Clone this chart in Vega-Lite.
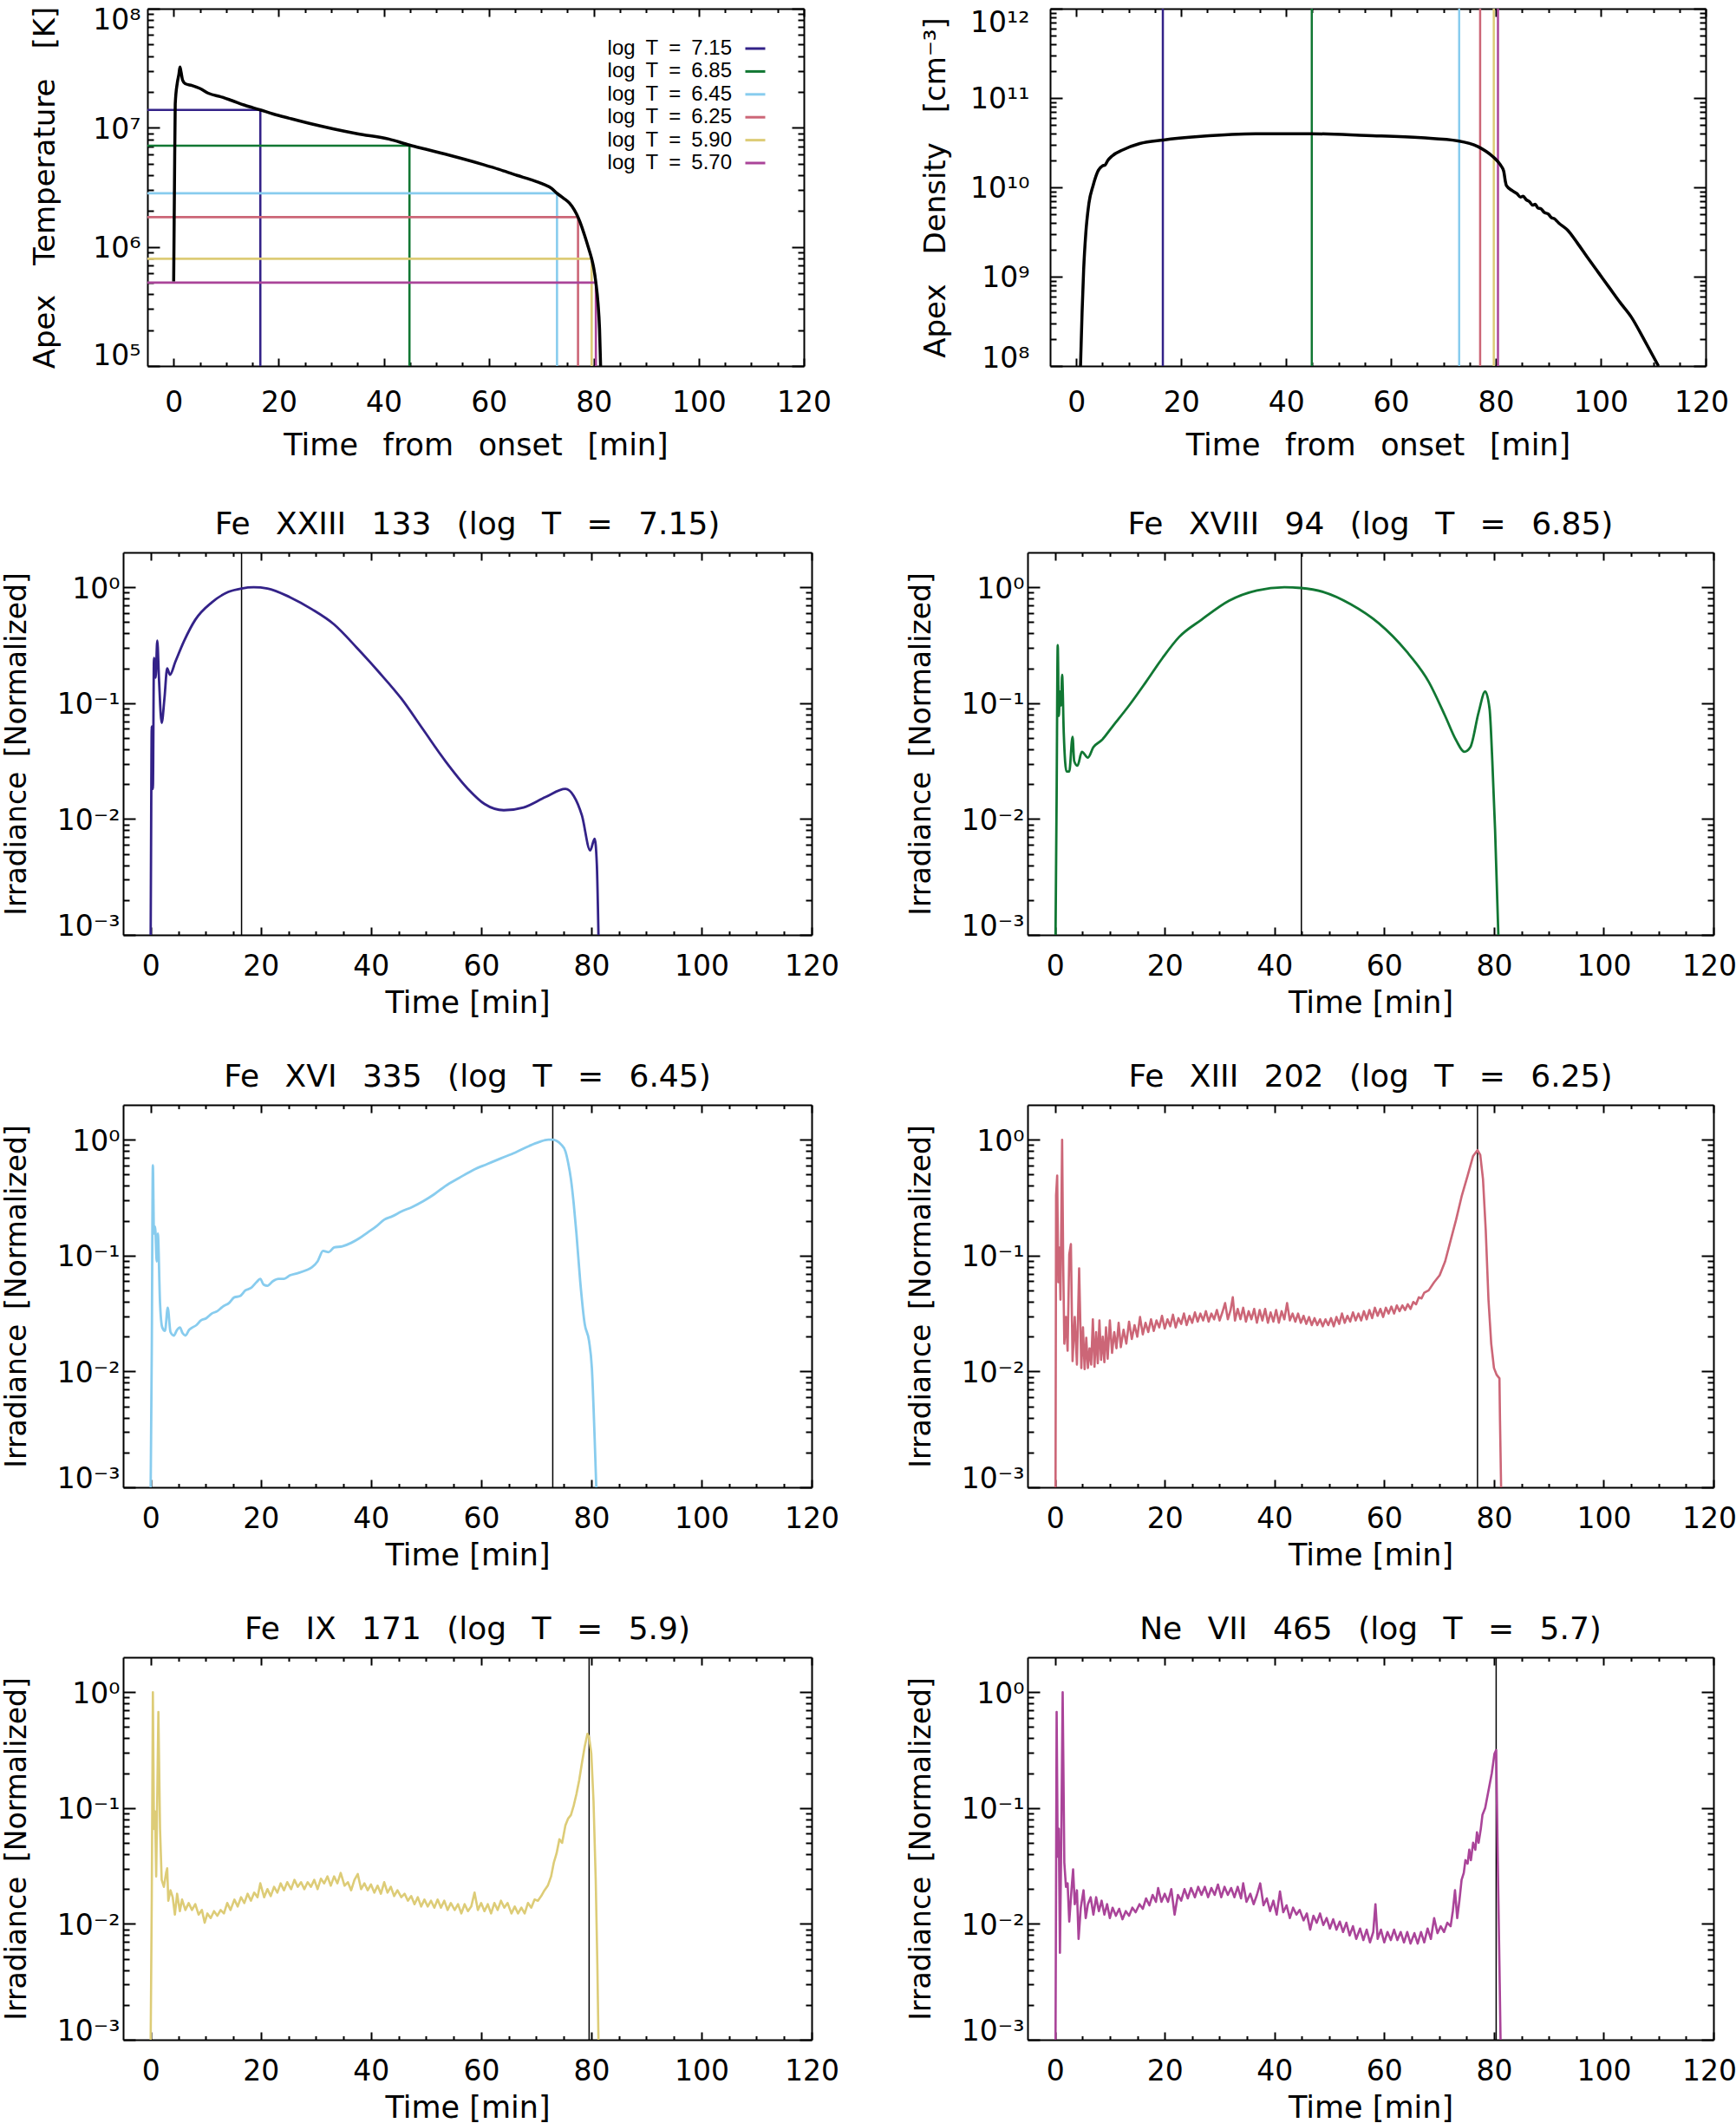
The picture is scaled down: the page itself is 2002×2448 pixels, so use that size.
{
  "$schema": "https://vega.github.io/schema/vega-lite/v6.json",
  "autosize": {"type": "none"},
  "padding": {"left": 142, "top": 10, "right": 1860, "bottom": 2438},
  "background": "white",
  "columns": 2,
  "spacing": {"row": 196, "column": 249},
  "bounds": "flush",
  "align": "each",
  "resolve": {"scale": {"color": "independent"}},
  "datasets": {
    "temp": [{"t":0,"lg":5.71},{"t":0.15,"lg":6.5},{"t":0.3,"lg":7.2},{"t":0.7,"lg":7.38},{"t":1.0,"lg":7.45},{"t":1.2,"lg":7.51},{"t":1.4,"lg":7.47},{"t":1.7,"lg":7.4},{"t":2.2,"lg":7.37},{"t":3.5,"lg":7.355},{"t":5.0,"lg":7.33},{"t":6.6,"lg":7.29},{"t":9.3,"lg":7.256},{"t":11.0,"lg":7.23},{"t":13.5,"lg":7.19},{"t":16.5,"lg":7.15},{"t":19.0,"lg":7.115},{"t":22.0,"lg":7.08},{"t":26.0,"lg":7.035},{"t":30.5,"lg":6.99},{"t":35.0,"lg":6.95},{"t":41.0,"lg":6.905},{"t":44.9,"lg":6.855},{"t":48.0,"lg":6.82},{"t":51.6,"lg":6.78},{"t":55.0,"lg":6.74},{"t":59.0,"lg":6.69},{"t":62.0,"lg":6.65},{"t":65.4,"lg":6.6},{"t":68.0,"lg":6.565},{"t":70.2,"lg":6.53},{"t":72.0,"lg":6.49},{"t":73.0,"lg":6.45},{"t":74.2,"lg":6.41},{"t":75.4,"lg":6.366},{"t":76.3,"lg":6.31},{"t":77.0,"lg":6.25},{"t":77.7,"lg":6.17},{"t":78.3,"lg":6.09},{"t":79.0,"lg":5.99},{"t":79.6,"lg":5.9},{"t":80.0,"lg":5.82},{"t":80.4,"lg":5.7},{"t":80.8,"lg":5.53},{"t":81.1,"lg":5.31},{"t":81.3,"lg":5.0}],
    "dens": [{"t":0.8,"lg":8.0},{"t":1.1,"lg":8.6},{"t":1.4,"lg":9.08},{"t":1.8,"lg":9.48},{"t":2.4,"lg":9.82},{"t":3.2,"lg":10.02},{"t":4.2,"lg":10.19},{"t":5.0,"lg":10.24},{"t":5.5,"lg":10.25},{"t":6.0,"lg":10.3},{"t":6.8,"lg":10.35},{"t":8.9,"lg":10.42},{"t":12.1,"lg":10.49},{"t":16.6,"lg":10.53},{"t":23.7,"lg":10.57},{"t":34.2,"lg":10.6},{"t":44.7,"lg":10.6},{"t":55.3,"lg":10.58},{"t":65.8,"lg":10.555},{"t":72.8,"lg":10.52},{"t":76.6,"lg":10.455},{"t":79.5,"lg":10.34},{"t":80.5,"lg":10.28},{"t":81.0,"lg":10.24},{"t":81.5,"lg":10.18},{"t":81.8,"lg":10.07},{"t":82.0,"lg":10.02},{"t":83.2,"lg":9.96},{"t":84.0,"lg":9.93},{"t":84.7,"lg":9.89},{"t":85.2,"lg":9.9},{"t":85.8,"lg":9.86},{"t":86.4,"lg":9.84},{"t":87.0,"lg":9.8},{"t":87.5,"lg":9.81},{"t":88.0,"lg":9.77},{"t":88.6,"lg":9.76},{"t":89.2,"lg":9.72},{"t":90.0,"lg":9.7},{"t":90.6,"lg":9.66},{"t":91.1,"lg":9.65},{"t":92.0,"lg":9.6},{"t":93.7,"lg":9.52},{"t":95.5,"lg":9.38},{"t":97.4,"lg":9.22},{"t":99.5,"lg":9.05},{"t":101.6,"lg":8.88},{"t":103.7,"lg":8.71},{"t":105.8,"lg":8.55},{"t":108.4,"lg":8.28},{"t":111.0,"lg":8.0}],
    "tlines": [
      {"label":"log\u2002T\u2002=\u20027.15","t":-5,"lg":7.15,"k":0},{"label":"log\u2002T\u2002=\u20027.15","t":16.5,"lg":7.15,"k":1},{"label":"log\u2002T\u2002=\u20027.15","t":16.5,"lg":5,"k":2},
      {"label":"log\u2002T\u2002=\u20026.85","t":-5,"lg":6.85,"k":0},{"label":"log\u2002T\u2002=\u20026.85","t":44.9,"lg":6.85,"k":1},{"label":"log\u2002T\u2002=\u20026.85","t":44.9,"lg":5,"k":2},
      {"label":"log\u2002T\u2002=\u20026.45","t":-5,"lg":6.45,"k":0},{"label":"log\u2002T\u2002=\u20026.45","t":73.0,"lg":6.45,"k":1},{"label":"log\u2002T\u2002=\u20026.45","t":73.0,"lg":5,"k":2},
      {"label":"log\u2002T\u2002=\u20026.25","t":-5,"lg":6.25,"k":0},{"label":"log\u2002T\u2002=\u20026.25","t":77.0,"lg":6.25,"k":1},{"label":"log\u2002T\u2002=\u20026.25","t":77.0,"lg":5,"k":2},
      {"label":"log\u2002T\u2002=\u20025.90","t":-5,"lg":5.9,"k":0},{"label":"log\u2002T\u2002=\u20025.90","t":79.6,"lg":5.9,"k":1},{"label":"log\u2002T\u2002=\u20025.90","t":79.6,"lg":5,"k":2},
      {"label":"log\u2002T\u2002=\u20025.70","t":-5,"lg":5.7,"k":0},{"label":"log\u2002T\u2002=\u20025.70","t":80.4,"lg":5.7,"k":1},{"label":"log\u2002T\u2002=\u20025.70","t":80.4,"lg":5,"k":2}
    ],
    "peaks": [
      {"line":"Fe XXIII 133","label":"log\u2002T\u2002=\u20027.15","t":16.5},
      {"line":"Fe XVIII 94","label":"log\u2002T\u2002=\u20026.85","t":44.9},
      {"line":"Fe XVI 335","label":"log\u2002T\u2002=\u20026.45","t":73.0},
      {"line":"Fe XIII 202","label":"log\u2002T\u2002=\u20026.25","t":77.0},
      {"line":"Fe IX 171","label":"log\u2002T\u2002=\u20025.90","t":79.6},
      {"line":"Ne VII 465","label":"log\u2002T\u2002=\u20025.70","t":80.4}
    ],
    "fe23": [{"t":0,"lg":-3},{"t":0.1,"lg":-1.9},{"t":0.2,"lg":-1.2},{"t":0.4,"lg":-1.74},{"t":0.6,"lg":-0.61},{"t":0.9,"lg":-0.78},{"t":1.2,"lg":-0.46},{"t":1.5,"lg":-0.78},{"t":2.0,"lg":-1.17},{"t":2.5,"lg":-0.96},{"t":3.0,"lg":-0.7},{"t":3.5,"lg":-0.755},{"t":4.5,"lg":-0.64},{"t":6.1,"lg":-0.46},{"t":8.1,"lg":-0.28},{"t":11.1,"lg":-0.13},{"t":14.1,"lg":-0.04},{"t":16.5,"lg":-0.01},{"t":18.7,"lg":0.0},{"t":21.2,"lg":-0.01},{"t":25.3,"lg":-0.086},{"t":29.3,"lg":-0.19},{"t":33.3,"lg":-0.32},{"t":37.4,"lg":-0.52},{"t":41.4,"lg":-0.73},{"t":45.5,"lg":-0.96},{"t":49.5,"lg":-1.23},{"t":53.5,"lg":-1.5},{"t":57.6,"lg":-1.74},{"t":60.6,"lg":-1.87},{"t":64.1,"lg":-1.924},{"t":67.7,"lg":-1.9},{"t":71.7,"lg":-1.81},{"t":75.3,"lg":-1.74},{"t":76.8,"lg":-1.8},{"t":78.3,"lg":-1.97},{"t":79.8,"lg":-2.27},{"t":80.6,"lg":-2.17},{"t":81.0,"lg":-2.39},{"t":81.3,"lg":-3}],
    "fe18": [{"t":0.1,"lg":-3},{"t":0.3,"lg":-1.8},{"t":0.5,"lg":-0.5},{"t":0.7,"lg":-1.11},{"t":0.9,"lg":-0.9},{"t":1.1,"lg":-1.02},{"t":1.3,"lg":-0.755},{"t":1.6,"lg":-1.26},{"t":2.1,"lg":-1.59},{"t":2.6,"lg":-1.59},{"t":3.2,"lg":-1.29},{"t":3.5,"lg":-1.5},{"t":4.1,"lg":-1.54},{"t":4.9,"lg":-1.42},{"t":6.0,"lg":-1.47},{"t":7.0,"lg":-1.38},{"t":8.5,"lg":-1.32},{"t":10.5,"lg":-1.2},{"t":13.5,"lg":-1.02},{"t":16.6,"lg":-0.815},{"t":19.6,"lg":-0.61},{"t":22.6,"lg":-0.43},{"t":26.7,"lg":-0.28},{"t":31.7,"lg":-0.116},{"t":36.8,"lg":-0.027},{"t":41.8,"lg":0.0},{"t":44.8,"lg":-0.006},{"t":48.9,"lg":-0.04},{"t":53.9,"lg":-0.146},{"t":59.0,"lg":-0.31},{"t":64.0,"lg":-0.55},{"t":68.1,"lg":-0.815},{"t":71.1,"lg":-1.11},{"t":73.1,"lg":-1.32},{"t":74.6,"lg":-1.42},{"t":75.7,"lg":-1.38},{"t":77.2,"lg":-1.08},{"t":78.4,"lg":-0.9},{"t":79.2,"lg":-1.05},{"t":79.7,"lg":-1.5},{"t":80.2,"lg":-2.09},{"t":80.8,"lg":-3}],
    "fe16": [{"t":0,"lg":-3},{"t":0.2,"lg":-1.82},{"t":0.4,"lg":-0.22},{"t":0.6,"lg":-0.81},{"t":0.8,"lg":-0.75},{"t":1.1,"lg":-1.05},{"t":1.3,"lg":-0.81},{"t":1.7,"lg":-1.41},{"t":2.1,"lg":-1.62},{"t":2.6,"lg":-1.65},{"t":3.1,"lg":-1.45},{"t":3.6,"lg":-1.66},{"t":4.2,"lg":-1.69},{"t":4.8,"lg":-1.64},{"t":5.3,"lg":-1.62},{"t":5.8,"lg":-1.67},{"t":6.3,"lg":-1.69},{"t":7.0,"lg":-1.64},{"t":7.6,"lg":-1.62},{"t":8.3,"lg":-1.6},{"t":9.1,"lg":-1.56},{"t":10.1,"lg":-1.54},{"t":11.1,"lg":-1.5},{"t":12.1,"lg":-1.48},{"t":13.1,"lg":-1.44},{"t":14.2,"lg":-1.41},{"t":15.2,"lg":-1.36},{"t":16.2,"lg":-1.35},{"t":17.2,"lg":-1.3},{"t":18.2,"lg":-1.28},{"t":19.2,"lg":-1.23},{"t":19.9,"lg":-1.2},{"t":20.5,"lg":-1.25},{"t":21.2,"lg":-1.26},{"t":22.2,"lg":-1.22},{"t":23.2,"lg":-1.2},{"t":24.2,"lg":-1.2},{"t":25.3,"lg":-1.17},{"t":26.8,"lg":-1.15},{"t":28.3,"lg":-1.125},{"t":29.3,"lg":-1.1},{"t":30.3,"lg":-1.05},{"t":31.3,"lg":-0.96},{"t":32.3,"lg":-0.97},{"t":33.3,"lg":-0.93},{"t":34.8,"lg":-0.92},{"t":36.4,"lg":-0.89},{"t":37.9,"lg":-0.85},{"t":39.4,"lg":-0.8},{"t":40.9,"lg":-0.75},{"t":42.4,"lg":-0.69},{"t":43.9,"lg":-0.66},{"t":45.5,"lg":-0.62},{"t":47.5,"lg":-0.58},{"t":49.5,"lg":-0.53},{"t":51.5,"lg":-0.47},{"t":53.5,"lg":-0.4},{"t":56.0,"lg":-0.33},{"t":58.6,"lg":-0.26},{"t":61.1,"lg":-0.21},{"t":63.6,"lg":-0.16},{"t":66.2,"lg":-0.11},{"t":68.7,"lg":-0.054},{"t":70.5,"lg":-0.02},{"t":72.2,"lg":0.0},{"t":73.0,"lg":0.0},{"t":73.7,"lg":-0.01},{"t":74.5,"lg":-0.04},{"t":75.3,"lg":-0.1},{"t":75.8,"lg":-0.2},{"t":76.3,"lg":-0.34},{"t":76.8,"lg":-0.55},{"t":77.3,"lg":-0.81},{"t":78.0,"lg":-1.23},{"t":78.8,"lg":-1.59},{"t":79.6,"lg":-1.74},{"t":80.1,"lg":-1.97},{"t":80.6,"lg":-2.57},{"t":80.9,"lg":-3}],
    "fe13": [{"t":0.1,"lg":-3},{"t":0.2,"lg":-0.48},{"t":0.4,"lg":-0.31},{"t":0.6,"lg":-1.23},{"t":0.8,"lg":-0.93},{"t":1.0,"lg":-1.38},{"t":1.3,"lg":0.0},{"t":1.5,"lg":-1.08},{"t":1.7,"lg":-1.76},{"t":2.0,"lg":-1.53},{"t":2.3,"lg":-1.82},{"t":2.6,"lg":-0.99},{"t":2.9,"lg":-0.9},{"t":3.2,"lg":-1.91},{"t":3.6,"lg":-1.53},{"t":4.0,"lg":-1.94},{"t":4.4,"lg":-1.11},{"t":4.8,"lg":-1.97},{"t":5.1,"lg":-1.62},{"t":5.4,"lg":-1.98},{"t":5.7,"lg":-1.71},{"t":6.0,"lg":-1.97},{"t":6.3,"lg":-1.8},{"t":6.6,"lg":-1.94},{"t":6.9,"lg":-1.55},{"t":7.2,"lg":-1.96},{"t":7.5,"lg":-1.66},{"t":7.8,"lg":-1.93},{"t":8.1,"lg":-1.56},{"t":8.4,"lg":-1.9},{"t":8.7,"lg":-1.7},{"t":9.0,"lg":-1.92},{"t":9.3,"lg":-1.62},{"t":9.6,"lg":-1.89},{"t":10.0,"lg":-1.56},{"t":10.4,"lg":-1.84},{"t":10.8,"lg":-1.66},{"t":11.2,"lg":-1.8},{"t":11.6,"lg":-1.58},{"t":12.0,"lg":-1.79},{"t":12.5,"lg":-1.64},{"t":13.0,"lg":-1.76},{"t":13.5,"lg":-1.57},{"t":14.0,"lg":-1.72},{"t":14.5,"lg":-1.6},{"t":15.0,"lg":-1.7},{"t":15.5,"lg":-1.53},{"t":16.0,"lg":-1.68},{"t":16.5,"lg":-1.58},{"t":17.0,"lg":-1.66},{"t":17.5,"lg":-1.55},{"t":18.0,"lg":-1.65},{"t":18.5,"lg":-1.56},{"t":19.0,"lg":-1.62},{"t":19.5,"lg":-1.52},{"t":20.0,"lg":-1.63},{"t":20.5,"lg":-1.55},{"t":21.0,"lg":-1.61},{"t":21.5,"lg":-1.51},{"t":22.0,"lg":-1.62},{"t":22.5,"lg":-1.54},{"t":23.0,"lg":-1.59},{"t":23.5,"lg":-1.5},{"t":24.0,"lg":-1.6},{"t":24.5,"lg":-1.52},{"t":25.0,"lg":-1.58},{"t":25.5,"lg":-1.49},{"t":26.0,"lg":-1.57},{"t":26.5,"lg":-1.5},{"t":27.0,"lg":-1.56},{"t":27.5,"lg":-1.48},{"t":28.0,"lg":-1.57},{"t":28.5,"lg":-1.5},{"t":29.0,"lg":-1.55},{"t":29.5,"lg":-1.47},{"t":30.0,"lg":-1.56},{"t":30.5,"lg":-1.49},{"t":31.0,"lg":-1.41},{"t":31.5,"lg":-1.55},{"t":32.0,"lg":-1.47},{"t":32.4,"lg":-1.36},{"t":32.8,"lg":-1.56},{"t":33.3,"lg":-1.46},{"t":33.8,"lg":-1.55},{"t":34.3,"lg":-1.45},{"t":34.8,"lg":-1.57},{"t":35.3,"lg":-1.48},{"t":35.8,"lg":-1.55},{"t":36.3,"lg":-1.46},{"t":36.8,"lg":-1.58},{"t":37.3,"lg":-1.47},{"t":37.8,"lg":-1.56},{"t":38.3,"lg":-1.46},{"t":38.8,"lg":-1.58},{"t":39.3,"lg":-1.49},{"t":39.8,"lg":-1.57},{"t":40.3,"lg":-1.47},{"t":40.8,"lg":-1.58},{"t":41.3,"lg":-1.48},{"t":41.8,"lg":-1.55},{"t":42.3,"lg":-1.41},{"t":42.8,"lg":-1.56},{"t":43.3,"lg":-1.5},{"t":43.8,"lg":-1.57},{"t":44.3,"lg":-1.5},{"t":44.8,"lg":-1.58},{"t":45.3,"lg":-1.52},{"t":45.8,"lg":-1.59},{"t":46.3,"lg":-1.53},{"t":46.8,"lg":-1.6},{"t":47.3,"lg":-1.54},{"t":47.8,"lg":-1.6},{"t":48.3,"lg":-1.55},{"t":48.8,"lg":-1.61},{"t":49.3,"lg":-1.55},{"t":49.8,"lg":-1.6},{"t":50.3,"lg":-1.54},{"t":50.8,"lg":-1.61},{"t":51.3,"lg":-1.53},{"t":51.8,"lg":-1.59},{"t":52.3,"lg":-1.5},{"t":52.8,"lg":-1.58},{"t":53.3,"lg":-1.52},{"t":53.8,"lg":-1.57},{"t":54.3,"lg":-1.49},{"t":54.8,"lg":-1.56},{"t":55.3,"lg":-1.5},{"t":55.8,"lg":-1.56},{"t":56.3,"lg":-1.48},{"t":56.8,"lg":-1.55},{"t":57.3,"lg":-1.47},{"t":57.8,"lg":-1.54},{"t":58.3,"lg":-1.45},{"t":58.8,"lg":-1.52},{"t":59.3,"lg":-1.46},{"t":59.8,"lg":-1.53},{"t":60.3,"lg":-1.45},{"t":60.8,"lg":-1.5},{"t":61.3,"lg":-1.44},{"t":61.8,"lg":-1.5},{"t":62.3,"lg":-1.43},{"t":62.8,"lg":-1.48},{"t":63.3,"lg":-1.43},{"t":63.8,"lg":-1.47},{"t":64.3,"lg":-1.42},{"t":64.8,"lg":-1.46},{"t":65.3,"lg":-1.4},{"t":65.8,"lg":-1.42},{"t":66.3,"lg":-1.36},{"t":66.8,"lg":-1.37},{"t":67.3,"lg":-1.32},{"t":68.1,"lg":-1.3},{"t":69.1,"lg":-1.23},{"t":70.1,"lg":-1.17},{"t":71.1,"lg":-1.05},{"t":72.1,"lg":-0.87},{"t":73.1,"lg":-0.69},{"t":74.1,"lg":-0.49},{"t":75.2,"lg":-0.31},{"t":76.2,"lg":-0.14},{"t":77.0,"lg":-0.09},{"t":77.5,"lg":-0.13},{"t":78.0,"lg":-0.34},{"t":78.5,"lg":-0.78},{"t":79.0,"lg":-1.38},{"t":79.5,"lg":-1.76},{"t":80.0,"lg":-1.97},{"t":80.5,"lg":-2.03},{"t":81.0,"lg":-2.06},{"t":81.1,"lg":-2.42},{"t":81.3,"lg":-3}],
    "fe9": [{"t":0,"lg":-3},{"t":0.2,"lg":-1.77},{"t":0.4,"lg":0.0},{"t":0.6,"lg":-1.18},{"t":0.8,"lg":-1.03},{"t":1.0,"lg":-1.59},{"t":1.4,"lg":-0.17},{"t":1.7,"lg":-1.18},{"t":2.0,"lg":-1.62},{"t":2.4,"lg":-1.68},{"t":2.8,"lg":-1.56},{"t":3.0,"lg":-1.52},{"t":3.2,"lg":-1.8},{"t":3.6,"lg":-1.71},{"t":4.0,"lg":-1.77},{"t":4.4,"lg":-1.92},{"t":4.8,"lg":-1.74},{"t":5.3,"lg":-1.89},{"t":5.7,"lg":-1.79},{"t":6.3,"lg":-1.88},{"t":6.9,"lg":-1.82},{"t":7.5,"lg":-1.88},{"t":8.1,"lg":-1.83},{"t":8.7,"lg":-1.92},{"t":9.3,"lg":-1.88},{"t":9.8,"lg":-1.99},{"t":10.3,"lg":-1.91},{"t":10.9,"lg":-1.95},{"t":11.5,"lg":-1.89},{"t":12.1,"lg":-1.93},{"t":12.7,"lg":-1.88},{"t":13.3,"lg":-1.91},{"t":13.9,"lg":-1.82},{"t":14.5,"lg":-1.88},{"t":15.2,"lg":-1.79},{"t":15.8,"lg":-1.85},{"t":16.4,"lg":-1.77},{"t":17.0,"lg":-1.82},{"t":17.6,"lg":-1.74},{"t":18.2,"lg":-1.8},{"t":18.8,"lg":-1.73},{"t":19.4,"lg":-1.77},{"t":19.9,"lg":-1.65},{"t":20.6,"lg":-1.77},{"t":21.2,"lg":-1.7},{"t":21.8,"lg":-1.76},{"t":22.4,"lg":-1.68},{"t":23.0,"lg":-1.73},{"t":23.6,"lg":-1.65},{"t":24.2,"lg":-1.71},{"t":24.8,"lg":-1.64},{"t":25.5,"lg":-1.7},{"t":26.1,"lg":-1.62},{"t":26.7,"lg":-1.68},{"t":27.3,"lg":-1.64},{"t":27.9,"lg":-1.7},{"t":28.5,"lg":-1.64},{"t":29.1,"lg":-1.68},{"t":29.7,"lg":-1.62},{"t":30.3,"lg":-1.7},{"t":30.9,"lg":-1.61},{"t":31.5,"lg":-1.65},{"t":32.1,"lg":-1.59},{"t":32.7,"lg":-1.67},{"t":33.3,"lg":-1.59},{"t":33.9,"lg":-1.65},{"t":34.5,"lg":-1.56},{"t":35.2,"lg":-1.67},{"t":35.8,"lg":-1.64},{"t":36.4,"lg":-1.71},{"t":37.0,"lg":-1.62},{"t":37.6,"lg":-1.57},{"t":38.2,"lg":-1.7},{"t":38.8,"lg":-1.65},{"t":39.4,"lg":-1.71},{"t":40.0,"lg":-1.66},{"t":40.6,"lg":-1.73},{"t":41.2,"lg":-1.67},{"t":41.8,"lg":-1.74},{"t":42.4,"lg":-1.64},{"t":43.0,"lg":-1.73},{"t":43.6,"lg":-1.68},{"t":44.2,"lg":-1.76},{"t":44.8,"lg":-1.71},{"t":45.5,"lg":-1.77},{"t":46.1,"lg":-1.74},{"t":46.7,"lg":-1.8},{"t":47.3,"lg":-1.76},{"t":47.9,"lg":-1.83},{"t":48.5,"lg":-1.77},{"t":49.1,"lg":-1.85},{"t":49.7,"lg":-1.79},{"t":50.3,"lg":-1.85},{"t":50.9,"lg":-1.8},{"t":51.5,"lg":-1.86},{"t":52.1,"lg":-1.79},{"t":52.7,"lg":-1.86},{"t":53.3,"lg":-1.8},{"t":53.9,"lg":-1.88},{"t":54.5,"lg":-1.82},{"t":55.2,"lg":-1.88},{"t":55.8,"lg":-1.83},{"t":56.4,"lg":-1.91},{"t":57.0,"lg":-1.83},{"t":57.6,"lg":-1.89},{"t":58.2,"lg":-1.85},{"t":58.8,"lg":-1.73},{"t":59.4,"lg":-1.88},{"t":60.0,"lg":-1.82},{"t":60.6,"lg":-1.89},{"t":61.2,"lg":-1.83},{"t":61.8,"lg":-1.91},{"t":62.4,"lg":-1.82},{"t":63.0,"lg":-1.88},{"t":63.6,"lg":-1.8},{"t":64.2,"lg":-1.86},{"t":64.8,"lg":-1.82},{"t":65.5,"lg":-1.91},{"t":66.1,"lg":-1.85},{"t":66.7,"lg":-1.91},{"t":67.3,"lg":-1.86},{"t":67.9,"lg":-1.91},{"t":68.5,"lg":-1.82},{"t":69.1,"lg":-1.86},{"t":69.7,"lg":-1.79},{"t":70.3,"lg":-1.8},{"t":70.9,"lg":-1.76},{"t":71.5,"lg":-1.71},{"t":72.1,"lg":-1.67},{"t":72.7,"lg":-1.59},{"t":73.2,"lg":-1.47},{"t":73.7,"lg":-1.39},{"t":74.2,"lg":-1.27},{"t":74.7,"lg":-1.3},{"t":75.3,"lg":-1.15},{"t":75.8,"lg":-1.09},{"t":76.3,"lg":-1.06},{"t":76.8,"lg":-0.98},{"t":77.3,"lg":-0.88},{"t":77.8,"lg":-0.76},{"t":78.3,"lg":-0.61},{"t":78.8,"lg":-0.47},{"t":79.3,"lg":-0.36},{"t":79.6,"lg":-0.39},{"t":80.0,"lg":-0.53},{"t":80.4,"lg":-0.94},{"t":80.8,"lg":-1.62},{"t":81.1,"lg":-2.36},{"t":81.3,"lg":-3}],
    "ne7": [{"t":0.1,"lg":-3},{"t":0.3,"lg":-0.17},{"t":0.5,"lg":-1.42},{"t":0.7,"lg":-1.18},{"t":0.9,"lg":-2.25},{"t":1.1,"lg":-1.47},{"t":1.4,"lg":0.0},{"t":1.7,"lg":-1.47},{"t":2.0,"lg":-1.68},{"t":2.3,"lg":-1.65},{"t":2.6,"lg":-1.98},{"t":3.0,"lg":-1.71},{"t":3.3,"lg":-1.53},{"t":3.6,"lg":-1.83},{"t":4.0,"lg":-1.71},{"t":4.3,"lg":-2.13},{"t":4.7,"lg":-1.86},{"t":5.2,"lg":-1.71},{"t":5.6,"lg":-1.95},{"t":6.0,"lg":-1.83},{"t":6.5,"lg":-1.77},{"t":7.0,"lg":-1.92},{"t":7.5,"lg":-1.77},{"t":8.0,"lg":-1.89},{"t":8.5,"lg":-1.8},{"t":9.0,"lg":-1.92},{"t":9.5,"lg":-1.83},{"t":10.0,"lg":-1.95},{"t":10.5,"lg":-1.86},{"t":11.1,"lg":-1.93},{"t":11.7,"lg":-1.87},{"t":12.3,"lg":-1.96},{"t":12.9,"lg":-1.89},{"t":13.5,"lg":-1.93},{"t":14.1,"lg":-1.86},{"t":14.7,"lg":-1.9},{"t":15.4,"lg":-1.83},{"t":16.0,"lg":-1.87},{"t":16.6,"lg":-1.78},{"t":17.2,"lg":-1.84},{"t":17.8,"lg":-1.75},{"t":18.4,"lg":-1.81},{"t":18.8,"lg":-1.69},{"t":19.4,"lg":-1.81},{"t":20.0,"lg":-1.74},{"t":20.6,"lg":-1.81},{"t":21.2,"lg":-1.7},{"t":21.8,"lg":-1.92},{"t":22.4,"lg":-1.75},{"t":23.0,"lg":-1.8},{"t":23.6,"lg":-1.7},{"t":24.2,"lg":-1.78},{"t":24.8,"lg":-1.69},{"t":25.5,"lg":-1.77},{"t":26.1,"lg":-1.68},{"t":26.7,"lg":-1.75},{"t":27.3,"lg":-1.68},{"t":27.9,"lg":-1.77},{"t":28.5,"lg":-1.69},{"t":29.1,"lg":-1.75},{"t":29.7,"lg":-1.66},{"t":30.3,"lg":-1.77},{"t":30.9,"lg":-1.68},{"t":31.5,"lg":-1.75},{"t":32.1,"lg":-1.69},{"t":32.7,"lg":-1.77},{"t":33.3,"lg":-1.68},{"t":33.9,"lg":-1.78},{"t":34.3,"lg":-1.65},{"t":34.9,"lg":-1.81},{"t":35.6,"lg":-1.74},{"t":36.2,"lg":-1.83},{"t":36.8,"lg":-1.75},{"t":37.4,"lg":-1.65},{"t":38.0,"lg":-1.84},{"t":38.6,"lg":-1.78},{"t":39.2,"lg":-1.89},{"t":39.8,"lg":-1.8},{"t":40.4,"lg":-1.92},{"t":41.0,"lg":-1.72},{"t":41.6,"lg":-1.9},{"t":42.2,"lg":-1.84},{"t":42.8,"lg":-1.95},{"t":43.4,"lg":-1.86},{"t":44.0,"lg":-1.92},{"t":44.6,"lg":-1.88},{"t":45.3,"lg":-1.97},{"t":45.9,"lg":-1.91},{"t":46.5,"lg":-2.05},{"t":47.1,"lg":-1.93},{"t":47.7,"lg":-1.99},{"t":48.3,"lg":-1.91},{"t":48.9,"lg":-2.01},{"t":49.5,"lg":-1.95},{"t":50.1,"lg":-2.04},{"t":50.7,"lg":-1.96},{"t":51.3,"lg":-2.05},{"t":51.9,"lg":-1.98},{"t":52.5,"lg":-2.07},{"t":53.1,"lg":-1.99},{"t":53.7,"lg":-2.1},{"t":54.3,"lg":-2.02},{"t":54.9,"lg":-2.13},{"t":55.6,"lg":-2.04},{"t":56.2,"lg":-2.14},{"t":56.8,"lg":-2.05},{"t":57.4,"lg":-2.16},{"t":58.0,"lg":-2.07},{"t":58.4,"lg":-1.83},{"t":58.8,"lg":-2.13},{"t":59.4,"lg":-2.05},{"t":60.0,"lg":-2.16},{"t":60.6,"lg":-2.07},{"t":61.2,"lg":-2.14},{"t":61.8,"lg":-2.05},{"t":62.4,"lg":-2.14},{"t":63.0,"lg":-2.07},{"t":63.6,"lg":-2.16},{"t":64.2,"lg":-2.07},{"t":64.8,"lg":-2.17},{"t":65.5,"lg":-2.08},{"t":66.1,"lg":-2.17},{"t":66.7,"lg":-2.07},{"t":67.3,"lg":-2.16},{"t":67.9,"lg":-2.04},{"t":68.5,"lg":-2.13},{"t":69.1,"lg":-1.95},{"t":69.7,"lg":-2.08},{"t":70.3,"lg":-2.02},{"t":70.9,"lg":-2.07},{"t":71.5,"lg":-1.99},{"t":72.1,"lg":-2.02},{"t":72.5,"lg":-1.89},{"t":72.9,"lg":-1.71},{"t":73.3,"lg":-1.95},{"t":73.7,"lg":-1.8},{"t":74.1,"lg":-1.62},{"t":74.5,"lg":-1.56},{"t":74.8,"lg":-1.45},{"t":75.2,"lg":-1.48},{"t":75.5,"lg":-1.36},{"t":75.8,"lg":-1.45},{"t":76.2,"lg":-1.3},{"t":76.6,"lg":-1.36},{"t":76.9,"lg":-1.21},{"t":77.2,"lg":-1.3},{"t":77.6,"lg":-1.18},{"t":77.9,"lg":-1.06},{"t":78.4,"lg":-1.0},{"t":79.0,"lg":-0.85},{"t":79.6,"lg":-0.7},{"t":80.1,"lg":-0.53},{"t":80.4,"lg":-0.5},{"t":80.7,"lg":-1.47},{"t":81.0,"lg":-2.36},{"t":81.2,"lg":-3}]
  },
  "concat": [
    {
      "width": 785, "height": 431,
      "layer": [
        {"data": {"name": "tlines"}, "mark": {"type": "line", "strokeWidth": 2.6},
         "encoding": {
           "x": {"field": "t", "type": "quantitative", "scale": {"domain": [-5, 120], "range": [28, 785], "nice": false, "zero": false}, "axis": null},
           "y": {"field": "lg", "type": "quantitative", "scale": {"domain": [5, 8], "range": [412, 0], "nice": false, "zero": false}, "axis": null},
           "color": {"field": "label", "type": "nominal",
             "scale": {"domain": ["log\u2002T\u2002=\u20027.15","log\u2002T\u2002=\u20026.85","log\u2002T\u2002=\u20026.45","log\u2002T\u2002=\u20026.25","log\u2002T\u2002=\u20025.90","log\u2002T\u2002=\u20025.70"], "range": ["#332288","#117733","#88CCEE","#CC6677","#DDCC77","#AA4499"]},
             "legend": {"orient": "none", "legendX": 716, "legendY": 33, "title": null, "symbolType": "stroke", "symbolSize": 529, "symbolStrokeWidth": 3, "labelAlign": "right", "labelOffset": -40, "labelFont": "Liberation Sans", "labelFontSize": 24, "labelColor": "black", "rowPadding": 1.4, "padding": 0, "labelLimit": 400}},
           "order": {"field": "k", "type": "quantitative"}
         }},
        {"data": {"name": "temp"}, "mark": {"type": "line", "color": "black", "strokeWidth": 3.5, "clip": true, "interpolate": "monotone"},
         "encoding": {
           "x": {"field": "t", "type": "quantitative", "scale": {"domain": [-5, 120], "range": [28, 785], "nice": false, "zero": false},
                 "axis": {"orient": "bottom", "offset": -19, "values": [0,20,40,60,80,100,120], "tickSize": -9, "labelPadding": 35, "title": "Time \u2002from \u2002onset \u2002[min]", "titleX": 406.5, "titleY": 102.7, "titleBaseline": "alphabetic", "titleAlign": "center"}},
           "y": {"field": "lg", "type": "quantitative", "scale": {"domain": [5, 8], "range": [412, 0], "nice": false, "zero": false},
                 "axis": {"orient": "left", "offset": -28, "values": [5,6,7,8], "tickSize": -14, "labelPadding": 22, "labelOffset": {"condition": [{"test": "datum.value == 5", "value": -12}, {"test": "datum.value == 8", "value": 13}], "value": 2}, "labelExpr": "datum.value == 5 ? '10\u2075' : datum.value == 6 ? '10\u2076' : datum.value == 7 ? '10\u2077' : '10\u2078'", "title": "Apex\u2003Temperature\u2003[K]", "titleFontSize": 34, "titleX": -108, "titleY": 206, "titleAngle": 270, "titleBaseline": "alphabetic", "titleAlign": "center"}}
         }},
        {"data": {"name": "temp"}, "mark": {"type": "line", "strokeOpacity": 0},
         "encoding": {
           "x": {"field": "t", "type": "quantitative", "scale": {"domain": [-5, 120], "range": [28, 785], "nice": false, "zero": false},
                 "axis": {"orient": "top", "values": [0,20,40,60,80,100,120], "tickSize": -9, "labels": false, "title": null}},
           "y": {"field": "lg", "type": "quantitative", "scale": {"domain": [5, 8], "range": [412, 0], "nice": false, "zero": false},
                 "axis": {"orient": "right", "values": [5,6,7,8], "tickSize": -14, "labels": false, "title": null}}
         }},
        {"data": {"name": "temp"}, "mark": {"type": "line", "strokeOpacity": 0},
         "encoding": {
           "x": {"field": "t", "type": "quantitative", "scale": {"domain": [-5, 120], "range": [28, 785], "nice": false, "zero": false},
                 "axis": {"orient": "bottom", "offset": -19, "values": [5,10,15,25,30,35,45,50,55,65,70,75,85,90,95,105,110,115], "tickSize": -4.5, "labels": false, "domain": false, "title": null}},
           "y": {"field": "lg", "type": "quantitative", "scale": {"domain": [5, 8], "range": [412, 0], "nice": false, "zero": false},
                 "axis": {"orient": "left", "offset": -28, "values": [5.301,5.477,5.602,5.699,5.778,5.845,5.903,5.954,6.301,6.477,6.602,6.699,6.778,6.845,6.903,6.954,7.301,7.477,7.602,7.699,7.778,7.845,7.903,7.954], "tickSize": -7, "labels": false, "domain": false, "title": null}}
         }},
        {"data": {"name": "temp"}, "mark": {"type": "line", "strokeOpacity": 0},
         "encoding": {
           "x": {"field": "t", "type": "quantitative", "scale": {"domain": [-5, 120], "range": [28, 785], "nice": false, "zero": false},
                 "axis": {"orient": "top", "values": [5,10,15,25,30,35,45,50,55,65,70,75,85,90,95,105,110,115], "tickSize": -4.5, "labels": false, "domain": false, "title": null}},
           "y": {"field": "lg", "type": "quantitative", "scale": {"domain": [5, 8], "range": [412, 0], "nice": false, "zero": false},
                 "axis": {"orient": "right", "values": [5.301,5.477,5.602,5.699,5.778,5.845,5.903,5.954,6.301,6.477,6.602,6.699,6.778,6.845,6.903,6.954,7.301,7.477,7.602,7.699,7.778,7.845,7.903,7.954], "tickSize": -7, "labels": false, "domain": false, "title": null}}
         }}
      ],
      "resolve": {"axis": {"x": "independent", "y": "independent"}}
    },
    {
      "width": 782, "height": 431,
      "layer": [
        {"data": {"name": "peaks"}, "mark": {"type": "rule", "strokeWidth": 2.5},
         "encoding": {
           "x": {"field": "t", "type": "quantitative", "scale": {"domain": [-5, 120], "range": [26, 782], "nice": false, "zero": false}, "axis": null},
           "y": {"datum": 8, "type": "quantitative", "scale": {"domain": [8, 12], "range": [412, 0], "nice": false, "zero": false}, "axis": null},
           "y2": {"datum": 12},
           "color": {"field": "label", "type": "nominal",
             "scale": {"domain": ["log\u2002T\u2002=\u20027.15","log\u2002T\u2002=\u20026.85","log\u2002T\u2002=\u20026.45","log\u2002T\u2002=\u20026.25","log\u2002T\u2002=\u20025.90","log\u2002T\u2002=\u20025.70"], "range": ["#332288","#117733","#88CCEE","#CC6677","#DDCC77","#AA4499"]},
             "legend": null}
         }},
        {"data": {"name": "dens"}, "mark": {"type": "line", "color": "black", "strokeWidth": 3.5, "clip": true, "interpolate": "monotone"},
         "encoding": {
           "x": {"field": "t", "type": "quantitative", "scale": {"domain": [-5, 120], "range": [26, 782], "nice": false, "zero": false},
                 "axis": {"orient": "bottom", "offset": -19, "values": [0,20,40,60,80,100,120], "tickSize": -9, "labelPadding": 35, "labelOffset": {"condition": {"test": "datum.value == 120", "value": -5}, "value": 0}, "title": "Time \u2002from \u2002onset \u2002[min]", "titleX": 404, "titleY": 102.7, "titleBaseline": "alphabetic", "titleAlign": "center"}},
           "y": {"field": "lg", "type": "quantitative", "scale": {"domain": [8, 12], "range": [412, 0], "nice": false, "zero": false},
                 "axis": {"orient": "left", "offset": -26, "values": [8,9,10,11,12], "tickSize": -14, "labelPadding": 38, "labelOffset": {"condition": [{"test": "datum.value == 8", "value": -9}, {"test": "datum.value == 12", "value": 16}], "value": 1}, "labelExpr": "datum.value == 8 ? '10\u2078' : datum.value == 9 ? '10\u2079' : datum.value == 10 ? '10\u00b9\u2070' : datum.value == 11 ? '10\u00b9\u00b9' : '10\u00b9\u00b2'", "title": "Apex\u2003Density\u2003[cm\u207b\u00b3]", "titleFontSize": 34, "titleX": -122, "titleY": 206, "titleAngle": 270, "titleBaseline": "alphabetic", "titleAlign": "center"}}
         }},
        {"data": {"name": "dens"}, "mark": {"type": "line", "strokeOpacity": 0},
         "encoding": {
           "x": {"field": "t", "type": "quantitative", "scale": {"domain": [-5, 120], "range": [26, 782], "nice": false, "zero": false},
                 "axis": {"orient": "top", "values": [0,20,40,60,80,100,120], "tickSize": -9, "labels": false, "title": null}},
           "y": {"field": "lg", "type": "quantitative", "scale": {"domain": [8, 12], "range": [412, 0], "nice": false, "zero": false},
                 "axis": {"orient": "right", "values": [8,9,10,11,12], "tickSize": -14, "labels": false, "title": null}}
         }},
        {"data": {"name": "dens"}, "mark": {"type": "line", "strokeOpacity": 0},
         "encoding": {
           "x": {"field": "t", "type": "quantitative", "scale": {"domain": [-5, 120], "range": [26, 782], "nice": false, "zero": false},
                 "axis": {"orient": "bottom", "offset": -19, "values": [5,10,15,25,30,35,45,50,55,65,70,75,85,90,95,105,110,115], "tickSize": -4.5, "labels": false, "domain": false, "title": null}},
           "y": {"field": "lg", "type": "quantitative", "scale": {"domain": [8, 12], "range": [412, 0], "nice": false, "zero": false},
                 "axis": {"orient": "left", "offset": -26, "values": [8.301,8.477,8.602,8.699,8.778,8.845,8.903,8.954,9.301,9.477,9.602,9.699,9.778,9.845,9.903,9.954,10.301,10.477,10.602,10.699,10.778,10.845,10.903,10.954,11.301,11.477,11.602,11.699,11.778,11.845,11.903,11.954], "tickSize": -7, "labels": false, "domain": false, "title": null}}
         }},
        {"data": {"name": "dens"}, "mark": {"type": "line", "strokeOpacity": 0},
         "encoding": {
           "x": {"field": "t", "type": "quantitative", "scale": {"domain": [-5, 120], "range": [26, 782], "nice": false, "zero": false},
                 "axis": {"orient": "top", "values": [5,10,15,25,30,35,45,50,55,65,70,75,85,90,95,105,110,115], "tickSize": -4.5, "labels": false, "domain": false, "title": null}},
           "y": {"field": "lg", "type": "quantitative", "scale": {"domain": [8, 12], "range": [412, 0], "nice": false, "zero": false},
                 "axis": {"orient": "right", "values": [8.301,8.477,8.602,8.699,8.778,8.845,8.903,8.954,9.301,9.477,9.602,9.699,9.778,9.845,9.903,9.954,10.301,10.477,10.602,10.699,10.778,10.845,10.903,10.954,11.301,11.477,11.602,11.699,11.778,11.845,11.903,11.954], "tickSize": -7, "labels": false, "domain": false, "title": null}}
         }}
      ],
      "resolve": {"axis": {"x": "independent", "y": "independent"}}
    },
    {
      "width": 794, "height": 441,
      "title": {"text": "Fe \u2002XXIII \u2002133 \u2002(log \u2002T \u2002= \u20027.15)"},
      "layer": [
        {"data": {"name": "peaks"}, "transform": [{"filter": "datum.line === 'Fe XXIII 133'"}], "mark": {"type": "rule", "color": "black", "strokeWidth": 1.5},
         "encoding": {"x": {"field": "t", "type": "quantitative", "scale": {"domain": [-5, 120], "nice": false, "zero": false}, "axis": null},
                      "y": {"datum": -3, "type": "quantitative", "scale": {"domain": [-3, 0.30103], "nice": false, "zero": false}, "axis": null}, "y2": {"datum": 0.30103}}},
        {"data": {"name": "fe23"}, "mark": {"type": "line", "color": "#332288", "strokeWidth": 2.8, "clip": true, "interpolate": "monotone"},
         "encoding": {"x": {"field": "t", "type": "quantitative", "scale": {"domain": [-5, 120], "nice": false, "zero": false}, "axis": {"orient": "bottom", "values": [0,20,40,60,80,100,120], "tickSize": -9, "labelPadding": 29, "title": "Time [min]", "titleX": 397, "titleY": 89, "titleBaseline": "alphabetic", "titleAlign": "center"}},
                      "y": {"field": "lg", "type": "quantitative", "scale": {"domain": [-3, 0.30103], "nice": false, "zero": false}, "axis": {"orient": "left", "values": [-3,-2,-1,0], "tickSize": -14, "labelPadding": 18, "labelOffset": {"condition": {"test": "datum.value == -3", "value": -10}, "value": 2}, "labelExpr": "datum.value == 0 ? '10\u2070' : datum.value == -1 ? '10\u207b\u00b9' : datum.value == -2 ? '10\u207b\u00b2' : '10\u207b\u00b3'", "title": "Irradiance\u2002[Normalized]", "titleFontSize": 33, "titleX": -113, "titleY": 220.5, "titleAngle": 270, "titleBaseline": "alphabetic", "titleAlign": "center"}}}},
        {"data": {"name": "fe23"}, "mark": {"type": "line", "strokeOpacity": 0},
         "encoding": {"x": {"field": "t", "type": "quantitative", "scale": {"domain": [-5, 120], "nice": false, "zero": false}, "axis": {"orient": "top", "values": [0,20,40,60,80,100,120], "tickSize": -9, "labels": false, "title": null}},
                      "y": {"field": "lg", "type": "quantitative", "scale": {"domain": [-3, 0.30103], "nice": false, "zero": false}, "axis": {"orient": "right", "values": [-3,-2,-1,0], "tickSize": -14, "labels": false, "title": null}}}},
        {"data": {"name": "fe23"}, "mark": {"type": "line", "strokeOpacity": 0},
         "encoding": {"x": {"field": "t", "type": "quantitative", "scale": {"domain": [-5, 120], "nice": false, "zero": false}, "axis": {"orient": "bottom", "values": [5,10,15,25,30,35,45,50,55,65,70,75,85,90,95,105,110,115], "tickSize": -4.5, "labels": false, "domain": false, "title": null}},
                      "y": {"field": "lg", "type": "quantitative", "scale": {"domain": [-3, 0.30103], "nice": false, "zero": false}, "axis": {"orient": "left", "values": [-2.699,-2.523,-2.398,-2.301,-2.222,-2.155,-2.097,-2.046,-1.699,-1.523,-1.398,-1.301,-1.222,-1.155,-1.097,-1.046,-0.699,-0.523,-0.398,-0.301,-0.222,-0.155,-0.097,-0.046], "tickSize": -7, "labels": false, "domain": false, "title": null}}}},
        {"data": {"name": "fe23"}, "mark": {"type": "line", "strokeOpacity": 0},
         "encoding": {"x": {"field": "t", "type": "quantitative", "scale": {"domain": [-5, 120], "nice": false, "zero": false}, "axis": {"orient": "top", "values": [5,10,15,25,30,35,45,50,55,65,70,75,85,90,95,105,110,115], "tickSize": -4.5, "labels": false, "domain": false, "title": null}},
                      "y": {"field": "lg", "type": "quantitative", "scale": {"domain": [-3, 0.30103], "nice": false, "zero": false}, "axis": {"orient": "right", "values": [-2.699,-2.523,-2.398,-2.301,-2.222,-2.155,-2.097,-2.046,-1.699,-1.523,-1.398,-1.301,-1.222,-1.155,-1.097,-1.046,-0.699,-0.523,-0.398,-0.301,-0.222,-0.155,-0.097,-0.046], "tickSize": -7, "labels": false, "domain": false, "title": null}}}}
      ],
      "resolve": {"axis": {"x": "independent", "y": "independent"}}
    },
    {
      "width": 791, "height": 441,
      "title": {"text": "Fe \u2002XVIII \u200294 \u2002(log \u2002T \u2002= \u20026.85)"},
      "layer": [
        {"data": {"name": "peaks"}, "transform": [{"filter": "datum.line === 'Fe XVIII 94'"}], "mark": {"type": "rule", "color": "black", "strokeWidth": 1.5},
         "encoding": {"x": {"field": "t", "type": "quantitative", "scale": {"domain": [-5, 120], "nice": false, "zero": false}, "axis": null},
                      "y": {"datum": -3, "type": "quantitative", "scale": {"domain": [-3, 0.30103], "nice": false, "zero": false}, "axis": null}, "y2": {"datum": 0.30103}}},
        {"data": {"name": "fe18"}, "mark": {"type": "line", "color": "#117733", "strokeWidth": 2.8, "clip": true, "interpolate": "monotone"},
         "encoding": {"x": {"field": "t", "type": "quantitative", "scale": {"domain": [-5, 120], "nice": false, "zero": false}, "axis": {"orient": "bottom", "values": [0,20,40,60,80,100,120], "tickSize": -9, "labelPadding": 29, "labelOffset": {"condition": {"test": "datum.value == 120", "value": -5}, "value": 0}, "title": "Time [min]", "titleX": 395.5, "titleY": 89, "titleBaseline": "alphabetic", "titleAlign": "center"}},
                      "y": {"field": "lg", "type": "quantitative", "scale": {"domain": [-3, 0.30103], "nice": false, "zero": false}, "axis": {"orient": "left", "values": [-3,-2,-1,0], "tickSize": -14, "labelPadding": 18, "labelOffset": {"condition": {"test": "datum.value == -3", "value": -10}, "value": 2}, "labelExpr": "datum.value == 0 ? '10\u2070' : datum.value == -1 ? '10\u207b\u00b9' : datum.value == -2 ? '10\u207b\u00b2' : '10\u207b\u00b3'", "title": "Irradiance\u2002[Normalized]", "titleFontSize": 33, "titleX": -113, "titleY": 220.5, "titleAngle": 270, "titleBaseline": "alphabetic", "titleAlign": "center"}}}},
        {"data": {"name": "fe18"}, "mark": {"type": "line", "strokeOpacity": 0},
         "encoding": {"x": {"field": "t", "type": "quantitative", "scale": {"domain": [-5, 120], "nice": false, "zero": false}, "axis": {"orient": "top", "values": [0,20,40,60,80,100,120], "tickSize": -9, "labels": false, "title": null}},
                      "y": {"field": "lg", "type": "quantitative", "scale": {"domain": [-3, 0.30103], "nice": false, "zero": false}, "axis": {"orient": "right", "values": [-3,-2,-1,0], "tickSize": -14, "labels": false, "title": null}}}},
        {"data": {"name": "fe18"}, "mark": {"type": "line", "strokeOpacity": 0},
         "encoding": {"x": {"field": "t", "type": "quantitative", "scale": {"domain": [-5, 120], "nice": false, "zero": false}, "axis": {"orient": "bottom", "values": [5,10,15,25,30,35,45,50,55,65,70,75,85,90,95,105,110,115], "tickSize": -4.5, "labels": false, "domain": false, "title": null}},
                      "y": {"field": "lg", "type": "quantitative", "scale": {"domain": [-3, 0.30103], "nice": false, "zero": false}, "axis": {"orient": "left", "values": [-2.699,-2.523,-2.398,-2.301,-2.222,-2.155,-2.097,-2.046,-1.699,-1.523,-1.398,-1.301,-1.222,-1.155,-1.097,-1.046,-0.699,-0.523,-0.398,-0.301,-0.222,-0.155,-0.097,-0.046], "tickSize": -7, "labels": false, "domain": false, "title": null}}}},
        {"data": {"name": "fe18"}, "mark": {"type": "line", "strokeOpacity": 0},
         "encoding": {"x": {"field": "t", "type": "quantitative", "scale": {"domain": [-5, 120], "nice": false, "zero": false}, "axis": {"orient": "top", "values": [5,10,15,25,30,35,45,50,55,65,70,75,85,90,95,105,110,115], "tickSize": -4.5, "labels": false, "domain": false, "title": null}},
                      "y": {"field": "lg", "type": "quantitative", "scale": {"domain": [-3, 0.30103], "nice": false, "zero": false}, "axis": {"orient": "right", "values": [-2.699,-2.523,-2.398,-2.301,-2.222,-2.155,-2.097,-2.046,-1.699,-1.523,-1.398,-1.301,-1.222,-1.155,-1.097,-1.046,-0.699,-0.523,-0.398,-0.301,-0.222,-0.155,-0.097,-0.046], "tickSize": -7, "labels": false, "domain": false, "title": null}}}}
      ],
      "resolve": {"axis": {"x": "independent", "y": "independent"}}
    },
    {
      "width": 794, "height": 441,
      "title": {"text": "Fe \u2002XVI \u2002335 \u2002(log \u2002T \u2002= \u20026.45)"},
      "layer": [
        {"data": {"name": "peaks"}, "transform": [{"filter": "datum.line === 'Fe XVI 335'"}], "mark": {"type": "rule", "color": "black", "strokeWidth": 1.5},
         "encoding": {"x": {"field": "t", "type": "quantitative", "scale": {"domain": [-5, 120], "nice": false, "zero": false}, "axis": null},
                      "y": {"datum": -3, "type": "quantitative", "scale": {"domain": [-3, 0.30103], "nice": false, "zero": false}, "axis": null}, "y2": {"datum": 0.30103}}},
        {"data": {"name": "fe16"}, "mark": {"type": "line", "color": "#88CCEE", "strokeWidth": 2.8, "clip": true, "interpolate": "monotone"},
         "encoding": {"x": {"field": "t", "type": "quantitative", "scale": {"domain": [-5, 120], "nice": false, "zero": false}, "axis": {"orient": "bottom", "values": [0,20,40,60,80,100,120], "tickSize": -9, "labelPadding": 29, "title": "Time [min]", "titleX": 397, "titleY": 89, "titleBaseline": "alphabetic", "titleAlign": "center"}},
                      "y": {"field": "lg", "type": "quantitative", "scale": {"domain": [-3, 0.30103], "nice": false, "zero": false}, "axis": {"orient": "left", "values": [-3,-2,-1,0], "tickSize": -14, "labelPadding": 18, "labelOffset": {"condition": {"test": "datum.value == -3", "value": -10}, "value": 2}, "labelExpr": "datum.value == 0 ? '10\u2070' : datum.value == -1 ? '10\u207b\u00b9' : datum.value == -2 ? '10\u207b\u00b2' : '10\u207b\u00b3'", "title": "Irradiance\u2002[Normalized]", "titleFontSize": 33, "titleX": -113, "titleY": 220.5, "titleAngle": 270, "titleBaseline": "alphabetic", "titleAlign": "center"}}}},
        {"data": {"name": "fe16"}, "mark": {"type": "line", "strokeOpacity": 0},
         "encoding": {"x": {"field": "t", "type": "quantitative", "scale": {"domain": [-5, 120], "nice": false, "zero": false}, "axis": {"orient": "top", "values": [0,20,40,60,80,100,120], "tickSize": -9, "labels": false, "title": null}},
                      "y": {"field": "lg", "type": "quantitative", "scale": {"domain": [-3, 0.30103], "nice": false, "zero": false}, "axis": {"orient": "right", "values": [-3,-2,-1,0], "tickSize": -14, "labels": false, "title": null}}}},
        {"data": {"name": "fe16"}, "mark": {"type": "line", "strokeOpacity": 0},
         "encoding": {"x": {"field": "t", "type": "quantitative", "scale": {"domain": [-5, 120], "nice": false, "zero": false}, "axis": {"orient": "bottom", "values": [5,10,15,25,30,35,45,50,55,65,70,75,85,90,95,105,110,115], "tickSize": -4.5, "labels": false, "domain": false, "title": null}},
                      "y": {"field": "lg", "type": "quantitative", "scale": {"domain": [-3, 0.30103], "nice": false, "zero": false}, "axis": {"orient": "left", "values": [-2.699,-2.523,-2.398,-2.301,-2.222,-2.155,-2.097,-2.046,-1.699,-1.523,-1.398,-1.301,-1.222,-1.155,-1.097,-1.046,-0.699,-0.523,-0.398,-0.301,-0.222,-0.155,-0.097,-0.046], "tickSize": -7, "labels": false, "domain": false, "title": null}}}},
        {"data": {"name": "fe16"}, "mark": {"type": "line", "strokeOpacity": 0},
         "encoding": {"x": {"field": "t", "type": "quantitative", "scale": {"domain": [-5, 120], "nice": false, "zero": false}, "axis": {"orient": "top", "values": [5,10,15,25,30,35,45,50,55,65,70,75,85,90,95,105,110,115], "tickSize": -4.5, "labels": false, "domain": false, "title": null}},
                      "y": {"field": "lg", "type": "quantitative", "scale": {"domain": [-3, 0.30103], "nice": false, "zero": false}, "axis": {"orient": "right", "values": [-2.699,-2.523,-2.398,-2.301,-2.222,-2.155,-2.097,-2.046,-1.699,-1.523,-1.398,-1.301,-1.222,-1.155,-1.097,-1.046,-0.699,-0.523,-0.398,-0.301,-0.222,-0.155,-0.097,-0.046], "tickSize": -7, "labels": false, "domain": false, "title": null}}}}
      ],
      "resolve": {"axis": {"x": "independent", "y": "independent"}}
    },
    {
      "width": 791, "height": 441,
      "title": {"text": "Fe \u2002XIII \u2002202 \u2002(log \u2002T \u2002= \u20026.25)"},
      "layer": [
        {"data": {"name": "peaks"}, "transform": [{"filter": "datum.line === 'Fe XIII 202'"}], "mark": {"type": "rule", "color": "black", "strokeWidth": 1.5},
         "encoding": {"x": {"field": "t", "type": "quantitative", "scale": {"domain": [-5, 120], "nice": false, "zero": false}, "axis": null},
                      "y": {"datum": -3, "type": "quantitative", "scale": {"domain": [-3, 0.30103], "nice": false, "zero": false}, "axis": null}, "y2": {"datum": 0.30103}}},
        {"data": {"name": "fe13"}, "mark": {"type": "line", "color": "#CC6677", "strokeWidth": 2.6, "clip": true},
         "encoding": {"x": {"field": "t", "type": "quantitative", "scale": {"domain": [-5, 120], "nice": false, "zero": false}, "axis": {"orient": "bottom", "values": [0,20,40,60,80,100,120], "tickSize": -9, "labelPadding": 29, "labelOffset": {"condition": {"test": "datum.value == 120", "value": -5}, "value": 0}, "title": "Time [min]", "titleX": 395.5, "titleY": 89, "titleBaseline": "alphabetic", "titleAlign": "center"}},
                      "y": {"field": "lg", "type": "quantitative", "scale": {"domain": [-3, 0.30103], "nice": false, "zero": false}, "axis": {"orient": "left", "values": [-3,-2,-1,0], "tickSize": -14, "labelPadding": 18, "labelOffset": {"condition": {"test": "datum.value == -3", "value": -10}, "value": 2}, "labelExpr": "datum.value == 0 ? '10\u2070' : datum.value == -1 ? '10\u207b\u00b9' : datum.value == -2 ? '10\u207b\u00b2' : '10\u207b\u00b3'", "title": "Irradiance\u2002[Normalized]", "titleFontSize": 33, "titleX": -113, "titleY": 220.5, "titleAngle": 270, "titleBaseline": "alphabetic", "titleAlign": "center"}}}},
        {"data": {"name": "fe13"}, "mark": {"type": "line", "strokeOpacity": 0},
         "encoding": {"x": {"field": "t", "type": "quantitative", "scale": {"domain": [-5, 120], "nice": false, "zero": false}, "axis": {"orient": "top", "values": [0,20,40,60,80,100,120], "tickSize": -9, "labels": false, "title": null}},
                      "y": {"field": "lg", "type": "quantitative", "scale": {"domain": [-3, 0.30103], "nice": false, "zero": false}, "axis": {"orient": "right", "values": [-3,-2,-1,0], "tickSize": -14, "labels": false, "title": null}}}},
        {"data": {"name": "fe13"}, "mark": {"type": "line", "strokeOpacity": 0},
         "encoding": {"x": {"field": "t", "type": "quantitative", "scale": {"domain": [-5, 120], "nice": false, "zero": false}, "axis": {"orient": "bottom", "values": [5,10,15,25,30,35,45,50,55,65,70,75,85,90,95,105,110,115], "tickSize": -4.5, "labels": false, "domain": false, "title": null}},
                      "y": {"field": "lg", "type": "quantitative", "scale": {"domain": [-3, 0.30103], "nice": false, "zero": false}, "axis": {"orient": "left", "values": [-2.699,-2.523,-2.398,-2.301,-2.222,-2.155,-2.097,-2.046,-1.699,-1.523,-1.398,-1.301,-1.222,-1.155,-1.097,-1.046,-0.699,-0.523,-0.398,-0.301,-0.222,-0.155,-0.097,-0.046], "tickSize": -7, "labels": false, "domain": false, "title": null}}}},
        {"data": {"name": "fe13"}, "mark": {"type": "line", "strokeOpacity": 0},
         "encoding": {"x": {"field": "t", "type": "quantitative", "scale": {"domain": [-5, 120], "nice": false, "zero": false}, "axis": {"orient": "top", "values": [5,10,15,25,30,35,45,50,55,65,70,75,85,90,95,105,110,115], "tickSize": -4.5, "labels": false, "domain": false, "title": null}},
                      "y": {"field": "lg", "type": "quantitative", "scale": {"domain": [-3, 0.30103], "nice": false, "zero": false}, "axis": {"orient": "right", "values": [-2.699,-2.523,-2.398,-2.301,-2.222,-2.155,-2.097,-2.046,-1.699,-1.523,-1.398,-1.301,-1.222,-1.155,-1.097,-1.046,-0.699,-0.523,-0.398,-0.301,-0.222,-0.155,-0.097,-0.046], "tickSize": -7, "labels": false, "domain": false, "title": null}}}}
      ],
      "resolve": {"axis": {"x": "independent", "y": "independent"}}
    },
    {
      "width": 794, "height": 441,
      "title": {"text": "Fe \u2002IX \u2002171 \u2002(log \u2002T \u2002= \u20025.9)"},
      "layer": [
        {"data": {"name": "peaks"}, "transform": [{"filter": "datum.line === 'Fe IX 171'"}], "mark": {"type": "rule", "color": "black", "strokeWidth": 1.5},
         "encoding": {"x": {"field": "t", "type": "quantitative", "scale": {"domain": [-5, 120], "nice": false, "zero": false}, "axis": null},
                      "y": {"datum": -3, "type": "quantitative", "scale": {"domain": [-3, 0.30103], "nice": false, "zero": false}, "axis": null}, "y2": {"datum": 0.30103}}},
        {"data": {"name": "fe9"}, "mark": {"type": "line", "color": "#DDCC77", "strokeWidth": 2.6, "clip": true},
         "encoding": {"x": {"field": "t", "type": "quantitative", "scale": {"domain": [-5, 120], "nice": false, "zero": false}, "axis": {"orient": "bottom", "values": [0,20,40,60,80,100,120], "tickSize": -9, "labelPadding": 29, "title": "Time [min]", "titleX": 397, "titleY": 89, "titleBaseline": "alphabetic", "titleAlign": "center"}},
                      "y": {"field": "lg", "type": "quantitative", "scale": {"domain": [-3, 0.30103], "nice": false, "zero": false}, "axis": {"orient": "left", "values": [-3,-2,-1,0], "tickSize": -14, "labelPadding": 18, "labelOffset": {"condition": {"test": "datum.value == -3", "value": -10}, "value": 2}, "labelExpr": "datum.value == 0 ? '10\u2070' : datum.value == -1 ? '10\u207b\u00b9' : datum.value == -2 ? '10\u207b\u00b2' : '10\u207b\u00b3'", "title": "Irradiance\u2002[Normalized]", "titleFontSize": 33, "titleX": -113, "titleY": 220.5, "titleAngle": 270, "titleBaseline": "alphabetic", "titleAlign": "center"}}}},
        {"data": {"name": "fe9"}, "mark": {"type": "line", "strokeOpacity": 0},
         "encoding": {"x": {"field": "t", "type": "quantitative", "scale": {"domain": [-5, 120], "nice": false, "zero": false}, "axis": {"orient": "top", "values": [0,20,40,60,80,100,120], "tickSize": -9, "labels": false, "title": null}},
                      "y": {"field": "lg", "type": "quantitative", "scale": {"domain": [-3, 0.30103], "nice": false, "zero": false}, "axis": {"orient": "right", "values": [-3,-2,-1,0], "tickSize": -14, "labels": false, "title": null}}}},
        {"data": {"name": "fe9"}, "mark": {"type": "line", "strokeOpacity": 0},
         "encoding": {"x": {"field": "t", "type": "quantitative", "scale": {"domain": [-5, 120], "nice": false, "zero": false}, "axis": {"orient": "bottom", "values": [5,10,15,25,30,35,45,50,55,65,70,75,85,90,95,105,110,115], "tickSize": -4.5, "labels": false, "domain": false, "title": null}},
                      "y": {"field": "lg", "type": "quantitative", "scale": {"domain": [-3, 0.30103], "nice": false, "zero": false}, "axis": {"orient": "left", "values": [-2.699,-2.523,-2.398,-2.301,-2.222,-2.155,-2.097,-2.046,-1.699,-1.523,-1.398,-1.301,-1.222,-1.155,-1.097,-1.046,-0.699,-0.523,-0.398,-0.301,-0.222,-0.155,-0.097,-0.046], "tickSize": -7, "labels": false, "domain": false, "title": null}}}},
        {"data": {"name": "fe9"}, "mark": {"type": "line", "strokeOpacity": 0},
         "encoding": {"x": {"field": "t", "type": "quantitative", "scale": {"domain": [-5, 120], "nice": false, "zero": false}, "axis": {"orient": "top", "values": [5,10,15,25,30,35,45,50,55,65,70,75,85,90,95,105,110,115], "tickSize": -4.5, "labels": false, "domain": false, "title": null}},
                      "y": {"field": "lg", "type": "quantitative", "scale": {"domain": [-3, 0.30103], "nice": false, "zero": false}, "axis": {"orient": "right", "values": [-2.699,-2.523,-2.398,-2.301,-2.222,-2.155,-2.097,-2.046,-1.699,-1.523,-1.398,-1.301,-1.222,-1.155,-1.097,-1.046,-0.699,-0.523,-0.398,-0.301,-0.222,-0.155,-0.097,-0.046], "tickSize": -7, "labels": false, "domain": false, "title": null}}}}
      ],
      "resolve": {"axis": {"x": "independent", "y": "independent"}}
    },
    {
      "width": 791, "height": 441,
      "title": {"text": "Ne \u2002VII \u2002465 \u2002(log \u2002T \u2002= \u20025.7)"},
      "layer": [
        {"data": {"name": "peaks"}, "transform": [{"filter": "datum.line === 'Ne VII 465'"}], "mark": {"type": "rule", "color": "black", "strokeWidth": 1.5},
         "encoding": {"x": {"field": "t", "type": "quantitative", "scale": {"domain": [-5, 120], "nice": false, "zero": false}, "axis": null},
                      "y": {"datum": -3, "type": "quantitative", "scale": {"domain": [-3, 0.30103], "nice": false, "zero": false}, "axis": null}, "y2": {"datum": 0.30103}}},
        {"data": {"name": "ne7"}, "mark": {"type": "line", "color": "#AA4499", "strokeWidth": 2.6, "clip": true},
         "encoding": {"x": {"field": "t", "type": "quantitative", "scale": {"domain": [-5, 120], "nice": false, "zero": false}, "axis": {"orient": "bottom", "values": [0,20,40,60,80,100,120], "tickSize": -9, "labelPadding": 29, "labelOffset": {"condition": {"test": "datum.value == 120", "value": -5}, "value": 0}, "title": "Time [min]", "titleX": 395.5, "titleY": 89, "titleBaseline": "alphabetic", "titleAlign": "center"}},
                      "y": {"field": "lg", "type": "quantitative", "scale": {"domain": [-3, 0.30103], "nice": false, "zero": false}, "axis": {"orient": "left", "values": [-3,-2,-1,0], "tickSize": -14, "labelPadding": 18, "labelOffset": {"condition": {"test": "datum.value == -3", "value": -10}, "value": 2}, "labelExpr": "datum.value == 0 ? '10\u2070' : datum.value == -1 ? '10\u207b\u00b9' : datum.value == -2 ? '10\u207b\u00b2' : '10\u207b\u00b3'", "title": "Irradiance\u2002[Normalized]", "titleFontSize": 33, "titleX": -113, "titleY": 220.5, "titleAngle": 270, "titleBaseline": "alphabetic", "titleAlign": "center"}}}},
        {"data": {"name": "ne7"}, "mark": {"type": "line", "strokeOpacity": 0},
         "encoding": {"x": {"field": "t", "type": "quantitative", "scale": {"domain": [-5, 120], "nice": false, "zero": false}, "axis": {"orient": "top", "values": [0,20,40,60,80,100,120], "tickSize": -9, "labels": false, "title": null}},
                      "y": {"field": "lg", "type": "quantitative", "scale": {"domain": [-3, 0.30103], "nice": false, "zero": false}, "axis": {"orient": "right", "values": [-3,-2,-1,0], "tickSize": -14, "labels": false, "title": null}}}},
        {"data": {"name": "ne7"}, "mark": {"type": "line", "strokeOpacity": 0},
         "encoding": {"x": {"field": "t", "type": "quantitative", "scale": {"domain": [-5, 120], "nice": false, "zero": false}, "axis": {"orient": "bottom", "values": [5,10,15,25,30,35,45,50,55,65,70,75,85,90,95,105,110,115], "tickSize": -4.5, "labels": false, "domain": false, "title": null}},
                      "y": {"field": "lg", "type": "quantitative", "scale": {"domain": [-3, 0.30103], "nice": false, "zero": false}, "axis": {"orient": "left", "values": [-2.699,-2.523,-2.398,-2.301,-2.222,-2.155,-2.097,-2.046,-1.699,-1.523,-1.398,-1.301,-1.222,-1.155,-1.097,-1.046,-0.699,-0.523,-0.398,-0.301,-0.222,-0.155,-0.097,-0.046], "tickSize": -7, "labels": false, "domain": false, "title": null}}}},
        {"data": {"name": "ne7"}, "mark": {"type": "line", "strokeOpacity": 0},
         "encoding": {"x": {"field": "t", "type": "quantitative", "scale": {"domain": [-5, 120], "nice": false, "zero": false}, "axis": {"orient": "top", "values": [5,10,15,25,30,35,45,50,55,65,70,75,85,90,95,105,110,115], "tickSize": -4.5, "labels": false, "domain": false, "title": null}},
                      "y": {"field": "lg", "type": "quantitative", "scale": {"domain": [-3, 0.30103], "nice": false, "zero": false}, "axis": {"orient": "right", "values": [-2.699,-2.523,-2.398,-2.301,-2.222,-2.155,-2.097,-2.046,-1.699,-1.523,-1.398,-1.301,-1.222,-1.155,-1.097,-1.046,-0.699,-0.523,-0.398,-0.301,-0.222,-0.155,-0.097,-0.046], "tickSize": -7, "labels": false, "domain": false, "title": null}}}}
      ],
      "resolve": {"axis": {"x": "independent", "y": "independent"}}
    }
  ],
  "config": {
    "view": {"stroke": null},
    "font": "DejaVu Sans",
    "axis": {"domainColor": "black", "domainWidth": 2, "tickColor": "black", "tickWidth": 2, "labelColor": "black", "titleColor": "black", "labelFont": "DejaVu Sans", "titleFont": "DejaVu Sans", "labelFontSize": 33, "titleFontSize": 35, "labelFontWeight": "normal", "titleFontWeight": "normal", "grid": false, "labelFlush": false, "labelOverlap": false},
    "title": {"font": "DejaVu Sans", "fontSize": 36, "fontWeight": "normal", "color": "black", "frame": "group", "anchor": "middle", "baseline": "alphabetic", "offset": 12},
    "line": {"strokeJoin": "round"}
  }
}
